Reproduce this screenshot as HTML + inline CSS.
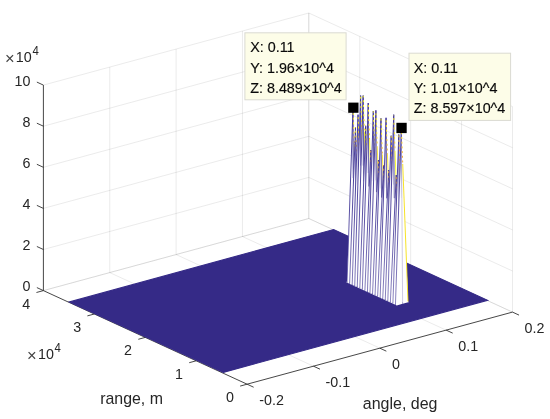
<!DOCTYPE html>
<html><head><meta charset="utf-8"><title>mesh plot</title>
<style>html,body{margin:0;padding:0;background:#fff;overflow:hidden}svg{display:block}</style>
</head><body>
<svg width="550" height="419" viewBox="0 0 550 419">
<rect width="550" height="419" fill="#fff"/>
<defs><linearGradient id="fade" gradientUnits="userSpaceOnUse" x1="0" y1="95" x2="0" y2="205"><stop offset="0" stop-color="#4a3fa8" stop-opacity="0.95"/><stop offset="0.5" stop-color="#4a3fa8" stop-opacity="0.6"/><stop offset="1" stop-color="#4a3fa8" stop-opacity="0"/></linearGradient><linearGradient id="leg" gradientUnits="userSpaceOnUse" x1="0" y1="110" x2="0" y2="300"><stop offset="0" stop-color="#3a2f92" stop-opacity="1.0"/><stop offset="0.5" stop-color="#3a2f92" stop-opacity="0.9"/><stop offset="1" stop-color="#3a2f92" stop-opacity="0.62"/></linearGradient><linearGradient id="yg" gradientUnits="userSpaceOnUse" x1="0" y1="95" x2="0" y2="190"><stop offset="0" stop-color="#f9fb0e"/><stop offset="0.38" stop-color="#f8e51c"/><stop offset="0.62" stop-color="#f2b035"/><stop offset="1" stop-color="#e39a3c"/></linearGradient></defs>
<g stroke="#262626" stroke-opacity="0.105" stroke-width="0.9" fill="none"><line x1="43.40" y1="290.60" x2="308.80" y2="218.50"/><line x1="43.40" y1="249.50" x2="308.80" y2="177.40"/><line x1="43.40" y1="208.40" x2="308.80" y2="136.30"/><line x1="43.40" y1="167.30" x2="308.80" y2="95.20"/><line x1="43.40" y1="126.20" x2="308.80" y2="54.10"/><line x1="43.40" y1="85.10" x2="308.80" y2="13.00"/><line x1="109.75" y1="272.58" x2="109.75" y2="67.08"/><line x1="176.10" y1="254.55" x2="176.10" y2="49.05"/><line x1="242.45" y1="236.53" x2="242.45" y2="31.03"/><line x1="308.80" y1="218.50" x2="308.80" y2="13.00"/><line x1="308.80" y1="218.50" x2="512.50" y2="312.10"/><line x1="308.80" y1="177.40" x2="512.50" y2="271.00"/><line x1="308.80" y1="136.30" x2="512.50" y2="229.90"/><line x1="308.80" y1="95.20" x2="512.50" y2="188.80"/><line x1="308.80" y1="54.10" x2="512.50" y2="147.70"/><line x1="308.80" y1="13.00" x2="512.50" y2="106.60"/><line x1="512.50" y1="312.10" x2="512.50" y2="106.60"/><line x1="461.57" y1="288.70" x2="461.57" y2="83.20"/><line x1="410.65" y1="265.30" x2="410.65" y2="59.80"/><line x1="359.73" y1="241.90" x2="359.73" y2="36.40"/><line x1="308.80" y1="218.50" x2="308.80" y2="13.00"/><line x1="313.45" y1="366.18" x2="109.75" y2="272.58"/><line x1="196.18" y1="360.80" x2="461.57" y2="288.70"/><line x1="379.80" y1="348.15" x2="176.10" y2="254.55"/><line x1="145.25" y1="337.40" x2="410.65" y2="265.30"/><line x1="446.15" y1="330.12" x2="242.45" y2="236.53"/><line x1="94.33" y1="314.00" x2="359.73" y2="241.90"/><line x1="512.50" y1="312.10" x2="308.80" y2="218.50"/><line x1="43.40" y1="290.60" x2="308.80" y2="218.50"/></g>
<g stroke="#262626" stroke-width="0.85" fill="none"><line x1="43.40" y1="290.60" x2="43.40" y2="85.10"/><line x1="43.40" y1="290.60" x2="247.10" y2="384.20"/><line x1="247.10" y1="384.20" x2="512.50" y2="312.10"/><line x1="43.40" y1="290.60" x2="36.86" y2="287.59"/><line x1="43.40" y1="249.50" x2="36.86" y2="246.49"/><line x1="43.40" y1="208.40" x2="36.86" y2="205.39"/><line x1="43.40" y1="167.30" x2="36.86" y2="164.29"/><line x1="43.40" y1="126.20" x2="36.86" y2="123.19"/><line x1="43.40" y1="85.10" x2="36.86" y2="82.09"/><line x1="247.10" y1="384.20" x2="240.15" y2="386.09"/><line x1="196.18" y1="360.80" x2="189.23" y2="362.69"/><line x1="145.25" y1="337.40" x2="138.30" y2="339.29"/><line x1="94.33" y1="314.00" x2="87.38" y2="315.89"/><line x1="43.40" y1="290.60" x2="36.45" y2="292.49"/><line x1="247.10" y1="384.20" x2="253.64" y2="387.21"/><line x1="313.45" y1="366.18" x2="319.99" y2="369.18"/><line x1="379.80" y1="348.15" x2="386.34" y2="351.16"/><line x1="446.15" y1="330.12" x2="452.69" y2="333.13"/><line x1="512.50" y1="312.10" x2="519.04" y2="315.11"/></g>
<polygon points="69.30,302.00 223.30,372.40 487.60,300.30 333.60,229.50" fill="#352a87" stroke="#352a87" stroke-width="1.1" stroke-linejoin="miter"/>
<g stroke-linecap="butt"><polygon points="351.70,280.44 352.97,108.00 359.61,279.22 358.33,278.63" fill="#fff"/><polygon points="345.79,282.04 347.07,282.62 352.97,108.00 351.70,280.44" fill="#fff"/><polygon points="352.97,108.00 354.25,281.61 360.88,279.80 359.61,279.22" fill="#fff"/><polygon points="347.07,282.62 348.34,283.21 354.25,281.61 352.97,108.00" fill="#fff"/><line x1="353.54" y1="186.12" x2="352.97" y2="108.00" stroke="#352a87" stroke-width="0.7" stroke-opacity="1"/><line x1="347.07" y1="282.62" x2="352.97" y2="108.00" stroke="url(#leg)" stroke-width="0.95"/><line x1="352.97" y1="108.00" x2="352.87" y2="178.00" stroke="url(#fade)" stroke-width="0.9"/><line x1="354.37" y1="144.00" x2="356.29" y2="193.61" stroke="#f5e01e" stroke-width="0.85"/><line x1="352.97" y1="108.30" x2="354.37" y2="144.00" stroke="url(#yg)" stroke-width="1.0" stroke-dasharray="2.0 2.7" stroke-dashoffset="0.0"/><polygon points="354.25,281.61 355.52,127.00 362.15,280.39 360.88,279.80" fill="#fff"/><polygon points="348.34,283.21 349.61,283.79 355.52,127.00 354.25,281.61" fill="#fff"/><polygon points="355.52,127.00 356.79,282.78 363.43,280.97 362.15,280.39" fill="#fff"/><polygon points="349.61,283.79 350.89,284.38 356.79,282.78 355.52,127.00" fill="#fff"/><line x1="356.09" y1="197.10" x2="355.52" y2="127.00" stroke="#352a87" stroke-width="0.7" stroke-opacity="1"/><line x1="349.61" y1="283.79" x2="355.52" y2="127.00" stroke="url(#leg)" stroke-width="0.95"/><line x1="355.52" y1="127.00" x2="355.42" y2="197.00" stroke="url(#fade)" stroke-width="0.9"/><line x1="357.08" y1="163.00" x2="358.84" y2="203.69" stroke="#fcc436" stroke-width="0.85"/><line x1="355.52" y1="127.30" x2="357.08" y2="163.00" stroke="url(#yg)" stroke-width="1.0" stroke-dasharray="2.0 2.7" stroke-dashoffset="1.3"/><polygon points="356.79,282.78 358.06,114.70 364.70,281.56 363.43,280.97" fill="#fff"/><polygon points="350.89,284.38 352.16,284.96 358.06,114.70 356.79,282.78" fill="#fff"/><polygon points="358.06,114.70 359.34,283.94 365.97,282.14 364.70,281.56" fill="#fff"/><polygon points="352.16,284.96 353.43,285.55 359.34,283.94 358.06,114.70" fill="#fff"/><line x1="358.64" y1="190.86" x2="358.06" y2="114.70" stroke="#352a87" stroke-width="0.7" stroke-opacity="1"/><line x1="352.16" y1="284.96" x2="358.06" y2="114.70" stroke="url(#leg)" stroke-width="0.95"/><line x1="358.06" y1="114.70" x2="357.96" y2="184.70" stroke="url(#fade)" stroke-width="0.9"/><line x1="359.50" y1="150.70" x2="361.38" y2="198.13" stroke="#f5e01e" stroke-width="0.85"/><line x1="358.06" y1="115.00" x2="359.50" y2="150.70" stroke="url(#yg)" stroke-width="1.0" stroke-dasharray="2.0 2.7" stroke-dashoffset="2.6"/><polygon points="359.34,283.94 360.61,95.60 367.25,282.73 365.97,282.14" fill="#fff"/><polygon points="353.43,285.55 354.71,286.13 360.61,95.60 359.34,283.94" fill="#fff"/><polygon points="360.61,95.60 361.88,285.12 368.52,283.31 367.25,282.73" fill="#fff"/><polygon points="354.71,286.13 355.98,286.72 361.88,285.12 360.61,95.60" fill="#fff"/><line x1="361.18" y1="180.88" x2="360.61" y2="95.60" stroke="#352a87" stroke-width="0.7" stroke-opacity="1"/><line x1="354.71" y1="286.13" x2="360.61" y2="95.60" stroke="url(#leg)" stroke-width="0.95"/><line x1="360.61" y1="95.60" x2="360.51" y2="165.60" stroke="url(#fade)" stroke-width="0.9"/><line x1="361.89" y1="131.60" x2="363.93" y2="189.16" stroke="#f9fb0e" stroke-width="0.85"/><line x1="360.61" y1="95.90" x2="361.89" y2="131.60" stroke="url(#yg)" stroke-width="1.0" stroke-dasharray="2.0 2.7" stroke-dashoffset="3.9"/><polygon points="361.88,285.12 363.16,95.60 369.79,283.90 368.52,283.31" fill="#fff"/><polygon points="355.98,286.72 357.25,287.30 363.16,95.60 361.88,285.12" fill="#fff"/><polygon points="363.16,95.60 364.43,286.29 371.07,284.48 369.79,283.90" fill="#fff"/><polygon points="357.25,287.30 358.52,287.89 364.43,286.29 363.16,95.60" fill="#fff"/><line x1="363.73" y1="181.41" x2="363.16" y2="95.60" stroke="#352a87" stroke-width="0.7" stroke-opacity="1"/><line x1="357.25" y1="287.30" x2="363.16" y2="95.60" stroke="url(#leg)" stroke-width="0.95"/><line x1="363.16" y1="95.60" x2="363.06" y2="165.60" stroke="url(#fade)" stroke-width="0.9"/><line x1="364.43" y1="131.60" x2="366.47" y2="189.75" stroke="#f9fb0e" stroke-width="0.85"/><line x1="363.16" y1="95.90" x2="364.43" y2="131.60" stroke="url(#yg)" stroke-width="1.0" stroke-dasharray="2.0 2.7" stroke-dashoffset="0.4"/><polygon points="364.43,286.29 365.70,125.80 372.34,285.07 371.07,284.48" fill="#fff"/><polygon points="358.52,287.89 359.80,288.47 365.70,125.80 364.43,286.29" fill="#fff"/><polygon points="365.70,125.80 366.98,287.46 373.61,285.65 372.34,285.07" fill="#fff"/><polygon points="359.80,288.47 361.07,289.06 366.98,287.46 365.70,125.80" fill="#fff"/><line x1="366.28" y1="198.54" x2="365.70" y2="125.80" stroke="#352a87" stroke-width="0.7" stroke-opacity="1"/><line x1="359.80" y1="288.47" x2="365.70" y2="125.80" stroke="url(#leg)" stroke-width="0.95"/><line x1="365.70" y1="125.80" x2="365.60" y2="195.80" stroke="url(#fade)" stroke-width="0.9"/><line x1="367.20" y1="161.80" x2="369.02" y2="205.43" stroke="#fcc436" stroke-width="0.85"/><line x1="365.70" y1="126.10" x2="367.20" y2="161.80" stroke="url(#yg)" stroke-width="1.0" stroke-dasharray="2.0 2.7" stroke-dashoffset="1.7"/><polygon points="366.98,287.46 368.25,103.00 374.88,286.24 373.61,285.65" fill="#fff"/><polygon points="361.07,289.06 362.34,289.64 368.25,103.00 366.98,287.46" fill="#fff"/><polygon points="368.25,103.00 369.52,288.62 376.16,286.82 374.88,286.24" fill="#fff"/><polygon points="362.34,289.64 363.62,290.23 369.52,288.62 368.25,103.00" fill="#fff"/><line x1="368.82" y1="186.53" x2="368.25" y2="103.00" stroke="#352a87" stroke-width="0.7" stroke-opacity="1"/><line x1="362.34" y1="289.64" x2="368.25" y2="103.00" stroke="url(#leg)" stroke-width="0.95"/><line x1="368.25" y1="103.00" x2="368.15" y2="173.00" stroke="url(#fade)" stroke-width="0.9"/><line x1="369.55" y1="139.00" x2="371.57" y2="194.62" stroke="#f9fb0e" stroke-width="0.85"/><line x1="368.25" y1="103.30" x2="369.55" y2="139.00" stroke="url(#yg)" stroke-width="1.0" stroke-dasharray="2.0 2.7" stroke-dashoffset="3.0"/><polygon points="369.52,288.62 370.80,150.00 377.43,287.41 376.16,286.82" fill="#fff"/><polygon points="363.62,290.23 364.89,290.81 370.80,150.00 369.52,288.62" fill="#fff"/><polygon points="370.80,150.00 372.07,289.80 378.70,287.99 377.43,287.41" fill="#fff"/><polygon points="364.89,290.81 366.16,291.40 372.07,289.80 370.80,150.00" fill="#fff"/><line x1="371.24" y1="198.93" x2="370.80" y2="150.00" stroke="#352a87" stroke-width="0.7" stroke-opacity="1"/><line x1="364.89" y1="290.81" x2="370.80" y2="150.00" stroke="url(#leg)" stroke-width="0.95"/><line x1="370.80" y1="150.00" x2="370.70" y2="190.00" stroke="url(#fade)" stroke-width="0.9"/><line x1="372.53" y1="186.00" x2="374.11" y2="218.70" stroke="#f0a830" stroke-width="0.85"/><line x1="370.80" y1="150.30" x2="372.53" y2="186.00" stroke="url(#yg)" stroke-width="1.0" stroke-dasharray="2.0 2.7" stroke-dashoffset="4.3"/><polygon points="372.07,289.80 373.34,111.00 379.98,288.58 378.70,287.99" fill="#fff"/><polygon points="366.16,291.40 367.44,291.98 373.34,111.00 372.07,289.80" fill="#fff"/><polygon points="373.34,111.00 374.62,290.97 381.25,289.16 379.98,288.58" fill="#fff"/><polygon points="367.44,291.98 368.71,292.57 374.62,290.97 373.34,111.00" fill="#fff"/><line x1="373.91" y1="191.98" x2="373.34" y2="111.00" stroke="#352a87" stroke-width="0.7" stroke-opacity="1"/><line x1="367.44" y1="291.98" x2="373.34" y2="111.00" stroke="url(#leg)" stroke-width="0.95"/><line x1="373.34" y1="111.00" x2="373.24" y2="181.00" stroke="url(#fade)" stroke-width="0.9"/><line x1="374.69" y1="147.00" x2="376.66" y2="199.79" stroke="#f5e01e" stroke-width="0.85"/><line x1="373.34" y1="111.30" x2="374.69" y2="147.00" stroke="url(#yg)" stroke-width="1.0" stroke-dasharray="2.0 2.7" stroke-dashoffset="0.8"/><polygon points="374.62,290.97 375.89,110.40 382.52,289.75 381.25,289.16" fill="#fff"/><polygon points="368.71,292.57 369.98,293.15 375.89,110.40 374.62,290.97" fill="#fff"/><polygon points="375.89,110.40 377.16,292.13 383.80,290.33 382.52,289.75" fill="#fff"/><polygon points="369.98,293.15 371.26,293.74 377.16,292.13 375.89,110.40" fill="#fff"/><line x1="376.46" y1="192.18" x2="375.89" y2="110.40" stroke="#352a87" stroke-width="0.7" stroke-opacity="1"/><line x1="369.98" y1="293.15" x2="375.89" y2="110.40" stroke="url(#leg)" stroke-width="0.95"/><line x1="375.89" y1="110.40" x2="375.79" y2="180.40" stroke="url(#fade)" stroke-width="0.9"/><line x1="377.22" y1="146.40" x2="379.21" y2="200.07" stroke="#f5e01e" stroke-width="0.85"/><line x1="375.89" y1="110.70" x2="377.22" y2="146.40" stroke="url(#yg)" stroke-width="1.0" stroke-dasharray="2.0 2.7" stroke-dashoffset="2.1"/><polygon points="377.16,292.13 378.43,160.00 385.07,290.92 383.80,290.33" fill="#fff"/><polygon points="371.26,293.74 372.53,294.32 378.43,160.00 377.16,292.13" fill="#fff"/><polygon points="378.43,160.00 379.71,293.31 386.34,291.50 385.07,290.92" fill="#fff"/><polygon points="372.53,294.32 373.80,294.91 379.71,293.31 378.43,160.00" fill="#fff"/><line x1="378.88" y1="206.66" x2="378.43" y2="160.00" stroke="#352a87" stroke-width="0.7" stroke-opacity="1"/><line x1="372.53" y1="294.32" x2="378.43" y2="160.00" stroke="url(#leg)" stroke-width="0.95"/><line x1="378.43" y1="160.00" x2="378.33" y2="200.00" stroke="url(#fade)" stroke-width="0.9"/><line x1="380.26" y1="196.00" x2="381.75" y2="225.46" stroke="#f0a830" stroke-width="0.85"/><line x1="378.43" y1="160.30" x2="380.26" y2="196.00" stroke="url(#yg)" stroke-width="1.0" stroke-dasharray="2.0 2.7" stroke-dashoffset="3.4"/><polygon points="379.71,293.31 380.98,118.40 387.62,292.09 386.34,291.50" fill="#fff"/><polygon points="373.80,294.91 375.08,295.49 380.98,118.40 379.71,293.31" fill="#fff"/><polygon points="380.98,118.40 382.25,294.48 388.89,292.67 387.62,292.09" fill="#fff"/><polygon points="375.08,295.49 376.35,296.08 382.25,294.48 380.98,118.40" fill="#fff"/><line x1="381.55" y1="197.63" x2="380.98" y2="118.40" stroke="#352a87" stroke-width="0.7" stroke-opacity="1"/><line x1="375.08" y1="295.49" x2="380.98" y2="118.40" stroke="url(#leg)" stroke-width="0.95"/><line x1="380.98" y1="118.40" x2="380.88" y2="188.40" stroke="url(#fade)" stroke-width="0.9"/><line x1="382.36" y1="154.40" x2="384.30" y2="205.24" stroke="#f5e01e" stroke-width="0.85"/><line x1="380.98" y1="118.70" x2="382.36" y2="154.40" stroke="url(#yg)" stroke-width="1.0" stroke-dasharray="2.0 2.7" stroke-dashoffset="4.7"/><polygon points="382.25,294.48 383.53,165.00 390.16,293.26 388.89,292.67" fill="#fff"/><polygon points="376.35,296.08 377.62,296.66 383.53,165.00 382.25,294.48" fill="#fff"/><polygon points="383.53,165.00 384.80,295.65 391.44,293.84 390.16,293.26" fill="#fff"/><polygon points="377.62,296.66 378.89,297.25 384.80,295.65 383.53,165.00" fill="#fff"/><line x1="383.97" y1="210.73" x2="383.53" y2="165.00" stroke="#352a87" stroke-width="0.7" stroke-opacity="1"/><line x1="377.62" y1="296.66" x2="383.53" y2="165.00" stroke="url(#leg)" stroke-width="0.95"/><line x1="383.53" y1="165.00" x2="383.43" y2="205.00" stroke="url(#fade)" stroke-width="0.9"/><line x1="385.39" y1="201.00" x2="386.84" y2="229.13" stroke="#f0a830" stroke-width="0.85"/><line x1="383.53" y1="165.30" x2="385.39" y2="201.00" stroke="url(#yg)" stroke-width="1.0" stroke-dasharray="2.0 2.7" stroke-dashoffset="1.2"/><polygon points="384.80,295.65 386.07,117.80 392.71,294.43 391.44,293.84" fill="#fff"/><polygon points="378.89,297.25 380.17,297.83 386.07,117.80 384.80,295.65" fill="#fff"/><polygon points="386.07,117.80 387.35,296.81 393.98,295.01 392.71,294.43" fill="#fff"/><polygon points="380.17,297.83 381.44,298.42 387.35,296.81 386.07,117.80" fill="#fff"/><line x1="386.65" y1="198.36" x2="386.07" y2="117.80" stroke="#352a87" stroke-width="0.7" stroke-opacity="1"/><line x1="380.17" y1="297.83" x2="386.07" y2="117.80" stroke="url(#leg)" stroke-width="0.95"/><line x1="386.07" y1="117.80" x2="385.97" y2="187.80" stroke="url(#fade)" stroke-width="0.9"/><line x1="387.43" y1="153.80" x2="389.39" y2="206.11" stroke="#f5e01e" stroke-width="0.85"/><line x1="386.07" y1="118.10" x2="387.43" y2="153.80" stroke="url(#yg)" stroke-width="1.0" stroke-dasharray="2.0 2.7" stroke-dashoffset="2.5"/><polygon points="387.35,296.81 388.62,170.00 395.25,295.60 393.98,295.01" fill="#fff"/><polygon points="381.44,298.42 382.71,299.00 388.62,170.00 387.35,296.81" fill="#fff"/><polygon points="388.62,170.00 389.89,297.99 396.53,296.18 395.25,295.60" fill="#fff"/><polygon points="382.71,299.00 383.99,299.59 389.89,297.99 388.62,170.00" fill="#fff"/><line x1="389.07" y1="214.79" x2="388.62" y2="170.00" stroke="#352a87" stroke-width="0.7" stroke-opacity="1"/><line x1="382.71" y1="299.00" x2="388.62" y2="170.00" stroke="url(#leg)" stroke-width="0.95"/><line x1="388.62" y1="170.00" x2="388.52" y2="210.00" stroke="url(#fade)" stroke-width="0.9"/><line x1="390.52" y1="206.00" x2="391.94" y2="232.80" stroke="#f0a830" stroke-width="0.85"/><line x1="388.62" y1="170.30" x2="390.52" y2="206.00" stroke="url(#yg)" stroke-width="1.0" stroke-dasharray="2.0 2.7" stroke-dashoffset="3.8"/><polygon points="389.89,297.99 391.17,135.70 397.80,296.77 396.53,296.18" fill="#fff"/><polygon points="383.99,299.59 385.26,300.17 391.17,135.70 389.89,297.99" fill="#fff"/><polygon points="391.17,135.70 392.44,299.16 399.07,297.35 397.80,296.77" fill="#fff"/><polygon points="385.26,300.17 386.53,300.76 392.44,299.16 391.17,135.70" fill="#fff"/><line x1="391.74" y1="209.25" x2="391.17" y2="135.70" stroke="#352a87" stroke-width="0.7" stroke-opacity="1"/><line x1="385.26" y1="300.17" x2="391.17" y2="135.70" stroke="url(#leg)" stroke-width="0.95"/><line x1="391.17" y1="135.70" x2="391.07" y2="205.70" stroke="url(#fade)" stroke-width="0.9"/><line x1="392.65" y1="171.70" x2="394.48" y2="216.23" stroke="#fcc436" stroke-width="0.85"/><line x1="391.17" y1="136.00" x2="392.65" y2="171.70" stroke="url(#yg)" stroke-width="1.0" stroke-dasharray="2.0 2.7" stroke-dashoffset="0.3"/><polygon points="392.44,299.16 393.71,114.70 400.35,297.94 399.07,297.35" fill="#fff"/><polygon points="386.53,300.76 387.81,301.34 393.71,114.70 392.44,299.16" fill="#fff"/><polygon points="393.71,114.70 394.99,300.32 401.62,298.52 400.35,297.94" fill="#fff"/><polygon points="387.81,301.34 389.08,301.93 394.99,300.32 393.71,114.70" fill="#fff"/><line x1="394.28" y1="198.23" x2="393.71" y2="114.70" stroke="#352a87" stroke-width="0.7" stroke-opacity="1"/><line x1="387.81" y1="301.34" x2="393.71" y2="114.70" stroke="url(#leg)" stroke-width="0.95"/><line x1="393.71" y1="114.70" x2="393.61" y2="184.70" stroke="url(#fade)" stroke-width="0.9"/><line x1="395.02" y1="150.70" x2="397.03" y2="206.32" stroke="#f9fb0e" stroke-width="0.85"/><line x1="393.71" y1="115.00" x2="395.02" y2="150.70" stroke="url(#yg)" stroke-width="1.0" stroke-dasharray="2.0 2.7" stroke-dashoffset="1.6"/><polygon points="394.99,300.33 396.26,175.00 402.89,299.11 401.62,298.52" fill="#fff"/><polygon points="389.08,301.93 390.35,302.51 396.26,175.00 394.99,300.33" fill="#fff"/><polygon points="396.26,175.00 397.53,301.50 404.17,299.69 402.89,299.11" fill="#fff"/><polygon points="390.35,302.51 391.63,303.10 397.53,301.50 396.26,175.00" fill="#fff"/><line x1="396.70" y1="219.27" x2="396.26" y2="175.00" stroke="#352a87" stroke-width="0.7" stroke-opacity="1"/><line x1="390.35" y1="302.51" x2="396.26" y2="175.00" stroke="url(#leg)" stroke-width="0.95"/><line x1="396.26" y1="175.00" x2="396.16" y2="215.00" stroke="url(#fade)" stroke-width="0.9"/><line x1="398.18" y1="211.00" x2="399.58" y2="237.05" stroke="#f0a830" stroke-width="0.85"/><line x1="396.26" y1="175.30" x2="398.18" y2="211.00" stroke="url(#yg)" stroke-width="1.0" stroke-dasharray="2.0 2.7" stroke-dashoffset="2.9"/><polygon points="397.53,301.50 398.80,134.50 405.44,300.28 404.17,299.69" fill="#fff"/><polygon points="391.63,303.10 392.90,303.68 398.80,134.50 397.53,301.50" fill="#fff"/><polygon points="398.80,134.50 400.08,302.67 406.71,300.86 405.44,300.28" fill="#fff"/><polygon points="392.90,303.68 394.17,304.27 400.08,302.67 398.80,134.50" fill="#fff"/><line x1="399.38" y1="210.17" x2="398.80" y2="134.50" stroke="#352a87" stroke-width="0.7" stroke-opacity="1"/><line x1="392.90" y1="303.68" x2="398.80" y2="134.50" stroke="url(#leg)" stroke-width="0.95"/><line x1="398.80" y1="134.50" x2="398.70" y2="204.50" stroke="url(#fade)" stroke-width="0.9"/><line x1="400.25" y1="170.50" x2="402.12" y2="217.39" stroke="#f5e01e" stroke-width="0.85"/><line x1="398.80" y1="134.80" x2="400.25" y2="170.50" stroke="url(#yg)" stroke-width="1.0" stroke-dasharray="2.0 2.7" stroke-dashoffset="4.2"/><polygon points="400.08,302.67 401.35,128.00 407.99,301.45 406.71,300.86" fill="#fff"/><polygon points="394.17,304.27 395.45,304.85 401.35,128.00 400.08,302.67" fill="#fff"/><polygon points="401.35,128.00 402.62,303.84 409.26,302.03 407.99,301.45" fill="#fff"/><polygon points="395.45,304.85 396.72,305.44 402.62,303.84 401.35,128.00" fill="#fff"/><line x1="402.62" y1="303.84" x2="401.35" y2="128.00" stroke="#352a87" stroke-width="0.7" stroke-opacity="0.35"/><line x1="395.45" y1="304.85" x2="401.35" y2="128.00" stroke="url(#leg)" stroke-width="0.95"/><line x1="401.35" y1="128.00" x2="401.25" y2="198.00" stroke="url(#fade)" stroke-width="0.9"/><line x1="402.73" y1="164.00" x2="407.99" y2="301.45" stroke="#f5e01e" stroke-width="0.95"/><line x1="401.35" y1="128.30" x2="402.73" y2="164.00" stroke="url(#yg)" stroke-width="1.0" stroke-dasharray="2.0 2.7" stroke-dashoffset="0.7"/></g>
<g font-family="'Liberation Sans', Arial, sans-serif" fill="#262626"><text transform="translate(30.4 291.0) scale(1 1.04)" font-size="14.3" text-anchor="end">0</text><text transform="translate(30.4 249.9) scale(1 1.04)" font-size="14.3" text-anchor="end">2</text><text transform="translate(30.4 208.8) scale(1 1.04)" font-size="14.3" text-anchor="end">4</text><text transform="translate(30.4 167.7) scale(1 1.04)" font-size="14.3" text-anchor="end">6</text><text transform="translate(30.4 126.6) scale(1 1.04)" font-size="14.3" text-anchor="end">8</text><text transform="translate(30.4 85.5) scale(1 1.04)" font-size="14.3" text-anchor="end">10</text><text transform="translate(233.9 402.1) scale(1 1.04)" font-size="14.3" text-anchor="end">0</text><text transform="translate(182.9 378.7) scale(1 1.04)" font-size="14.3" text-anchor="end">1</text><text transform="translate(132.0 355.3) scale(1 1.04)" font-size="14.3" text-anchor="end">2</text><text transform="translate(81.1 331.9) scale(1 1.04)" font-size="14.3" text-anchor="end">3</text><text transform="translate(30.2 308.5) scale(1 1.04)" font-size="14.3" text-anchor="end">4</text><text transform="translate(259.2 404.8) scale(1 1.04)" font-size="14.3">-0.2</text><text transform="translate(325.6 386.8) scale(1 1.04)" font-size="14.3">-0.1</text><text transform="translate(391.9 368.8) scale(1 1.04)" font-size="14.3">0</text><text transform="translate(458.3 350.7) scale(1 1.04)" font-size="14.3">0.1</text><text transform="translate(524.6 332.7) scale(1 1.04)" font-size="14.3">0.2</text><text transform="translate(5.0 61.8) scale(1 1.04)" font-size="14.3"><tspan font-size="16.5" dy="1.7" fill="#444">×</tspan><tspan dy="-1.7" dx="1.2">10</tspan><tspan dy="-6.9" dx="0.8" font-size="11.4">4</tspan></text><text transform="translate(27.1 359.1) scale(1 1.04)" font-size="14.3"><tspan font-size="16.5" dy="1.7" fill="#444">×</tspan><tspan dy="-1.7" dx="1.2">10</tspan><tspan dy="-6.9" dx="0.8" font-size="11.4">4</tspan></text><text transform="translate(100.2 403.6) scale(1 1.04)" font-size="15.9">range, m</text><text transform="translate(362.8 409.1) scale(1 1.04)" font-size="16.0">angle, deg</text></g>
<rect x="244.9" y="32.8" width="101.2" height="67" fill="#fdfde8" stroke="#dadad2" stroke-width="1"/><rect x="409.0" y="53.2" width="101.6" height="67.2" fill="#fdfde8" stroke="#dadad2" stroke-width="1"/><g font-family="'Liberation Sans', Arial, sans-serif" fill="#0a0a0a" stroke="#0a0a0a" stroke-width="0.15"><text transform="translate(250.2 52.4) scale(1 1.04)" font-size="14.35">X: 0.11</text><text transform="translate(250.2 72.5) scale(1 1.04)" font-size="14.35">Y: 1.96×10^4</text><text transform="translate(250.2 92.6) scale(1 1.04)" font-size="14.35">Z: 8.489×10^4</text><text transform="translate(413.7 72.6) scale(1 1.04)" font-size="14.35">X: 0.11</text><text transform="translate(413.7 92.8) scale(1 1.04)" font-size="14.35">Y: 1.01×10^4</text><text transform="translate(413.7 113.0) scale(1 1.04)" font-size="14.35">Z: 8.597×10^4</text></g><rect x="348.2" y="102.6" width="10.3" height="10.2" fill="#000"/><rect x="396.4" y="122.8" width="10.3" height="10.3" fill="#000"/>
</svg>
</body></html>
